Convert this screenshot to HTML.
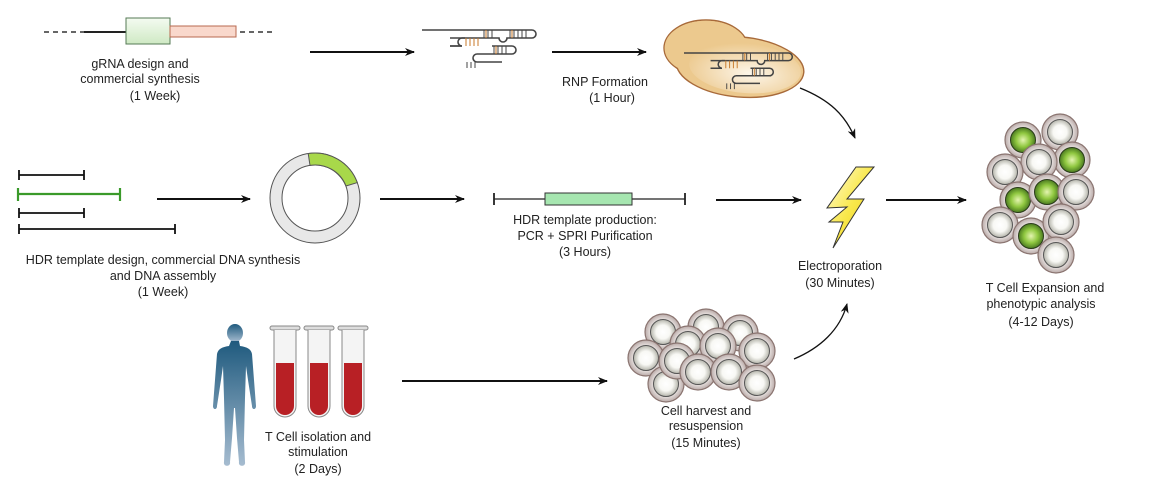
<!DOCTYPE html>
<html><head><meta charset="utf-8"><style>
html,body{margin:0;padding:0;background:#fff;}
svg{display:block;}
text{font-family:"Liberation Sans",Arial,sans-serif;font-size:12.5px;fill:#222;text-anchor:middle;}
</style></head><body>
<svg width="1162" height="498" viewBox="0 0 1162 498" xmlns="http://www.w3.org/2000/svg">
<defs>
<marker id="ah" markerWidth="10" markerHeight="8" refX="9" refY="4" orient="auto" markerUnits="userSpaceOnUse">
<path d="M0,0 L10,4 L0,8 L3,4 Z" fill="#111"/></marker>
<radialGradient id="cg" cx="50%" cy="50%" r="50%"><stop offset="0" stop-color="#fff"/><stop offset="0.55" stop-color="#f8f8f4"/><stop offset="1" stop-color="#b4b4aa"/></radialGradient>
<radialGradient id="gg" cx="50%" cy="50%" r="50%"><stop offset="0" stop-color="#e4f4b0"/><stop offset="0.55" stop-color="#90c840"/><stop offset="1" stop-color="#4a7a20"/></radialGradient>
<radialGradient id="og" cx="50%" cy="50%" r="50%"><stop offset="0.62" stop-color="#f2eeec"/><stop offset="1" stop-color="#b9aaa8"/></radialGradient>
<radialGradient id="rnp" cx="55%" cy="60%" r="60%"><stop offset="0" stop-color="#fdf6ea"/><stop offset="1" stop-color="#ecc98e"/></radialGradient>
<linearGradient id="bolt" x1="0" y1="0" x2="1" y2="1"><stop offset="0" stop-color="#fffbe0"/><stop offset="0.5" stop-color="#f9e84a"/><stop offset="1" stop-color="#e8c81a"/></linearGradient>
<linearGradient id="human" x1="0" y1="0" x2="0" y2="1"><stop offset="0" stop-color="#1f5a7e"/><stop offset="1" stop-color="#a6bcd0"/></linearGradient>
<linearGradient id="gb" x1="0" y1="0" x2="0" y2="1"><stop offset="0" stop-color="#f4fbf1"/><stop offset="1" stop-color="#cfe9c4"/></linearGradient>
<g id="cell"><circle r="18" fill="url(#og)" stroke="#8a7470" stroke-width="1.2"/><circle r="12.5" fill="url(#cg)" stroke="#555" stroke-width="1"/></g>
<g id="gcell"><circle r="18" fill="url(#og)" stroke="#8a7470" stroke-width="1.2"/><circle r="12.5" fill="url(#gg)" stroke="#2a3a1a" stroke-width="1"/></g>
<g id="rna" fill="none" stroke="#444" stroke-width="1.6">
<path d="M0,0 H110 a4,4 0 0 1 0,8 H85 a4,4 0 0 1 -8,0 H40 a4,4 0 0 0 0,8 H28"/>
<path d="M28,8 H43 M28,16 H40"/>
<path d="M70,16 H90 a4,4 0 0 1 0,8 H55 a4,4 0 0 0 0,8 H80"/>
<g stroke-width="1">
<path d="M44,8 v8 M48,8 v8 M52,8 v8 M56,8 v8" stroke="#c87a2a"/>
<path d="M62,0 v8 M66,0 v8 M70,0 v8 M88,0 v8 M92,0 v8 M96,0 v8 M100,0 v8 M104,0 v8" stroke="#444"/>
<path d="M64,0 v8 M90,0 v8" stroke="#c87a2a"/>
<path d="M72,16 v8 M76,16 v8 M80,16 v8 M84,16 v8" stroke="#444"/>
<path d="M74,16 v8" stroke="#c87a2a"/>
<path d="M45,32 v6 M49,32 v6 M53,32 v6" stroke="#444"/>
</g>
</g>
</defs>

<!-- gRNA -->
<line x1="44" y1="32" x2="84" y2="32" stroke="#333" stroke-width="1.5" stroke-dasharray="5,4"/>
<line x1="84" y1="32" x2="126" y2="32" stroke="#222" stroke-width="2"/>
<rect x="126" y="18" width="44" height="26" fill="url(#gb)" stroke="#557a55"/>
<rect x="170" y="26" width="66" height="11" fill="#f9d8cc" stroke="#b86a50"/>
<line x1="240" y1="32" x2="274" y2="32" stroke="#333" stroke-width="1.5" stroke-dasharray="5,4"/>
<text x="140" y="68">gRNA design and</text>
<text x="140" y="83">commercial synthesis</text>
<text x="155" y="100">(1 Week)</text>
<line x1="310" y1="52" x2="414" y2="52" stroke="#111" stroke-width="2" marker-end="url(#ah)"/>

<!-- RNA -->
<g transform="translate(422,30)"><use href="#rna"/></g>
<line x1="552" y1="52" x2="646" y2="52" stroke="#111" stroke-width="2" marker-end="url(#ah)"/>
<text x="605" y="86">RNP Formation</text>
<text x="612" y="102">(1 Hour)</text>
<!-- RNP blob -->
<ellipse cx="706" cy="48" rx="42" ry="28" fill="#ecc98e" stroke="#a86a3a" stroke-width="1.4"/>
<ellipse cx="740" cy="67" rx="64" ry="30" fill="#ecc98e" stroke="#a86a3a" stroke-width="1.4" transform="rotate(5 740 67)"/>
<ellipse cx="706" cy="48" rx="41.3" ry="27.3" fill="#ecc98e"/>
<ellipse cx="745" cy="68" rx="56" ry="25" fill="url(#rnp)" transform="rotate(5 745 68)"/>
<g transform="translate(684,53) scale(0.95)"><use href="#rna"/></g>
<path d="M800,88 C830,100 845,115 855,138" fill="none" stroke="#111" stroke-width="1.3" marker-end="url(#ah)"/>

<!-- HDR lines -->
<g stroke="#111" stroke-width="1.8">
<line x1="19" y1="175" x2="84" y2="175"/><line x1="19" y1="170" x2="19" y2="180"/><line x1="84" y1="170" x2="84" y2="180"/>
<line x1="19" y1="213" x2="84" y2="213"/><line x1="19" y1="208" x2="19" y2="218"/><line x1="84" y1="208" x2="84" y2="218"/>
<line x1="19" y1="229" x2="175" y2="229"/><line x1="19" y1="224" x2="19" y2="234"/><line x1="175" y1="224" x2="175" y2="234"/>
</g>
<g stroke="#3a9a2a" stroke-width="2.2">
<line x1="18" y1="194" x2="120" y2="194"/><line x1="18" y1="188" x2="18" y2="201"/><line x1="120" y1="188" x2="120" y2="201"/>
</g>
<text x="163" y="264">HDR template design, commercial DNA synthesis</text>
<text x="163" y="280">and DNA assembly</text>
<text x="163" y="296">(1 Week)</text>
<line x1="157" y1="199" x2="250" y2="199" stroke="#111" stroke-width="2" marker-end="url(#ah)"/>

<!-- ring -->
<circle cx="315" cy="198" r="39" fill="none" stroke="#e8e8e8" stroke-width="12"/>
<circle cx="315" cy="198" r="45" fill="none" stroke="#555" stroke-width="1"/>
<circle cx="315" cy="198" r="33" fill="none" stroke="#555" stroke-width="1"/>
<path d="M308.2,153.5 A45,45 0 0 1 357.3,182.6 L346,186 A33,33 0 0 0 310,165.4 Z" fill="#a8d84a" stroke="#555" stroke-width="1"/>
<line x1="380" y1="199" x2="464" y2="199" stroke="#111" stroke-width="2" marker-end="url(#ah)"/>

<!-- PCR product -->
<line x1="494" y1="199" x2="685" y2="199" stroke="#222" stroke-width="1.3"/>
<line x1="494" y1="193" x2="494" y2="205" stroke="#222" stroke-width="1.8"/>
<line x1="685" y1="193" x2="685" y2="205" stroke="#222" stroke-width="1.8"/>
<rect x="545" y="193" width="87" height="12" fill="#a6e6b0" stroke="#333"/>
<text x="585" y="224">HDR template production:</text>
<text x="585" y="240">PCR + SPRI Purification</text>
<text x="585" y="256">(3 Hours)</text>
<line x1="716" y1="200" x2="801" y2="200" stroke="#111" stroke-width="2" marker-end="url(#ah)"/>

<!-- bolt -->
<path d="M856,167 L874,167 L847,199 L864,199 L857,210 L833,248 L843,222 L829,222 L847,207 L827,208 Z" fill="url(#bolt)" stroke="#333" stroke-width="1"/>
<text x="840" y="270">Electroporation</text>
<text x="840" y="287">(30 Minutes)</text>
<line x1="886" y1="200" x2="966" y2="200" stroke="#111" stroke-width="2" marker-end="url(#ah)"/>

<!-- expansion cells -->
<use href="#gcell" x="1023" y="140"/><use href="#cell" x="1060" y="132"/>
<use href="#gcell" x="1072" y="160"/><use href="#cell" x="1039" y="162"/><use href="#cell" x="1005" y="172"/>
<use href="#gcell" x="1018" y="200"/><use href="#gcell" x="1047" y="192"/><use href="#cell" x="1076" y="192"/>
<use href="#cell" x="1000" y="225"/><use href="#gcell" x="1031" y="236"/><use href="#cell" x="1061" y="222"/>
<use href="#cell" x="1056" y="255"/>
<text x="1045" y="292">T Cell Expansion and</text>
<text x="1041" y="308">phenotypic analysis</text>
<text x="1041" y="326">(4-12 Days)</text>

<!-- human -->
<g fill="url(#human)">
<ellipse cx="235" cy="333" rx="8" ry="9"/>
<path d="M231,341 h8 l1,5 c7,1 11,3 12,8 l2,26 l2,26 c0,4 -4,4 -4,0 l-4,-26 l-2,-14 l-1,32 l-1,42 l1,22 c1,5 -7,5 -6,0 l-2,-24 l-2,-30 h-1 l-2,30 l-2,24 c1,5 -7,5 -6,0 l1,-22 l-1,-42 l-1,-32 l-2,14 l-4,26 c0,4 -4,4 -4,0 l2,-26 l2,-26 c1,-5 5,-7 12,-8 Z"/>
</g>
<!-- tubes -->
<g>
<g transform="translate(272,326)"><rect x="-2" y="0" width="30" height="4" rx="2" fill="#ddd" stroke="#888"/><path d="M2,4 V80 a11,11 0 0 0 22,0 V4" fill="#f4f4f4" stroke="#888"/><path d="M4,37 V80 a9,9 0 0 0 18,0 V37 Z" fill="#b82025"/></g>
<g transform="translate(306,326)"><rect x="-2" y="0" width="30" height="4" rx="2" fill="#ddd" stroke="#888"/><path d="M2,4 V80 a11,11 0 0 0 22,0 V4" fill="#f4f4f4" stroke="#888"/><path d="M4,37 V80 a9,9 0 0 0 18,0 V37 Z" fill="#b82025"/></g>
<g transform="translate(340,326)"><rect x="-2" y="0" width="30" height="4" rx="2" fill="#ddd" stroke="#888"/><path d="M2,4 V80 a11,11 0 0 0 22,0 V4" fill="#f4f4f4" stroke="#888"/><path d="M4,37 V80 a9,9 0 0 0 18,0 V37 Z" fill="#b82025"/></g>
</g>
<text x="318" y="441">T Cell isolation and</text>
<text x="318" y="456">stimulation</text>
<text x="318" y="473">(2 Days)</text>
<line x1="402" y1="381" x2="607" y2="381" stroke="#111" stroke-width="2" marker-end="url(#ah)"/>

<!-- harvest cells -->
<use href="#cell" x="706" y="327"/><use href="#cell" x="740" y="333"/>
<use href="#cell" x="663" y="332"/><use href="#cell" x="688" y="344"/><use href="#cell" x="718" y="346"/>
<use href="#cell" x="646" y="358"/><use href="#cell" x="666" y="384"/><use href="#cell" x="677" y="361"/>
<use href="#cell" x="698" y="372"/><use href="#cell" x="757" y="351"/><use href="#cell" x="729" y="372"/>
<use href="#cell" x="757" y="383"/>
<text x="706" y="415">Cell harvest and</text>
<text x="706" y="430">resuspension</text>
<text x="706" y="447">(15 Minutes)</text>
<path d="M794,359 C820,348 840,330 847,304" fill="none" stroke="#111" stroke-width="1.3" marker-end="url(#ah)"/>
</svg>
</body></html>
